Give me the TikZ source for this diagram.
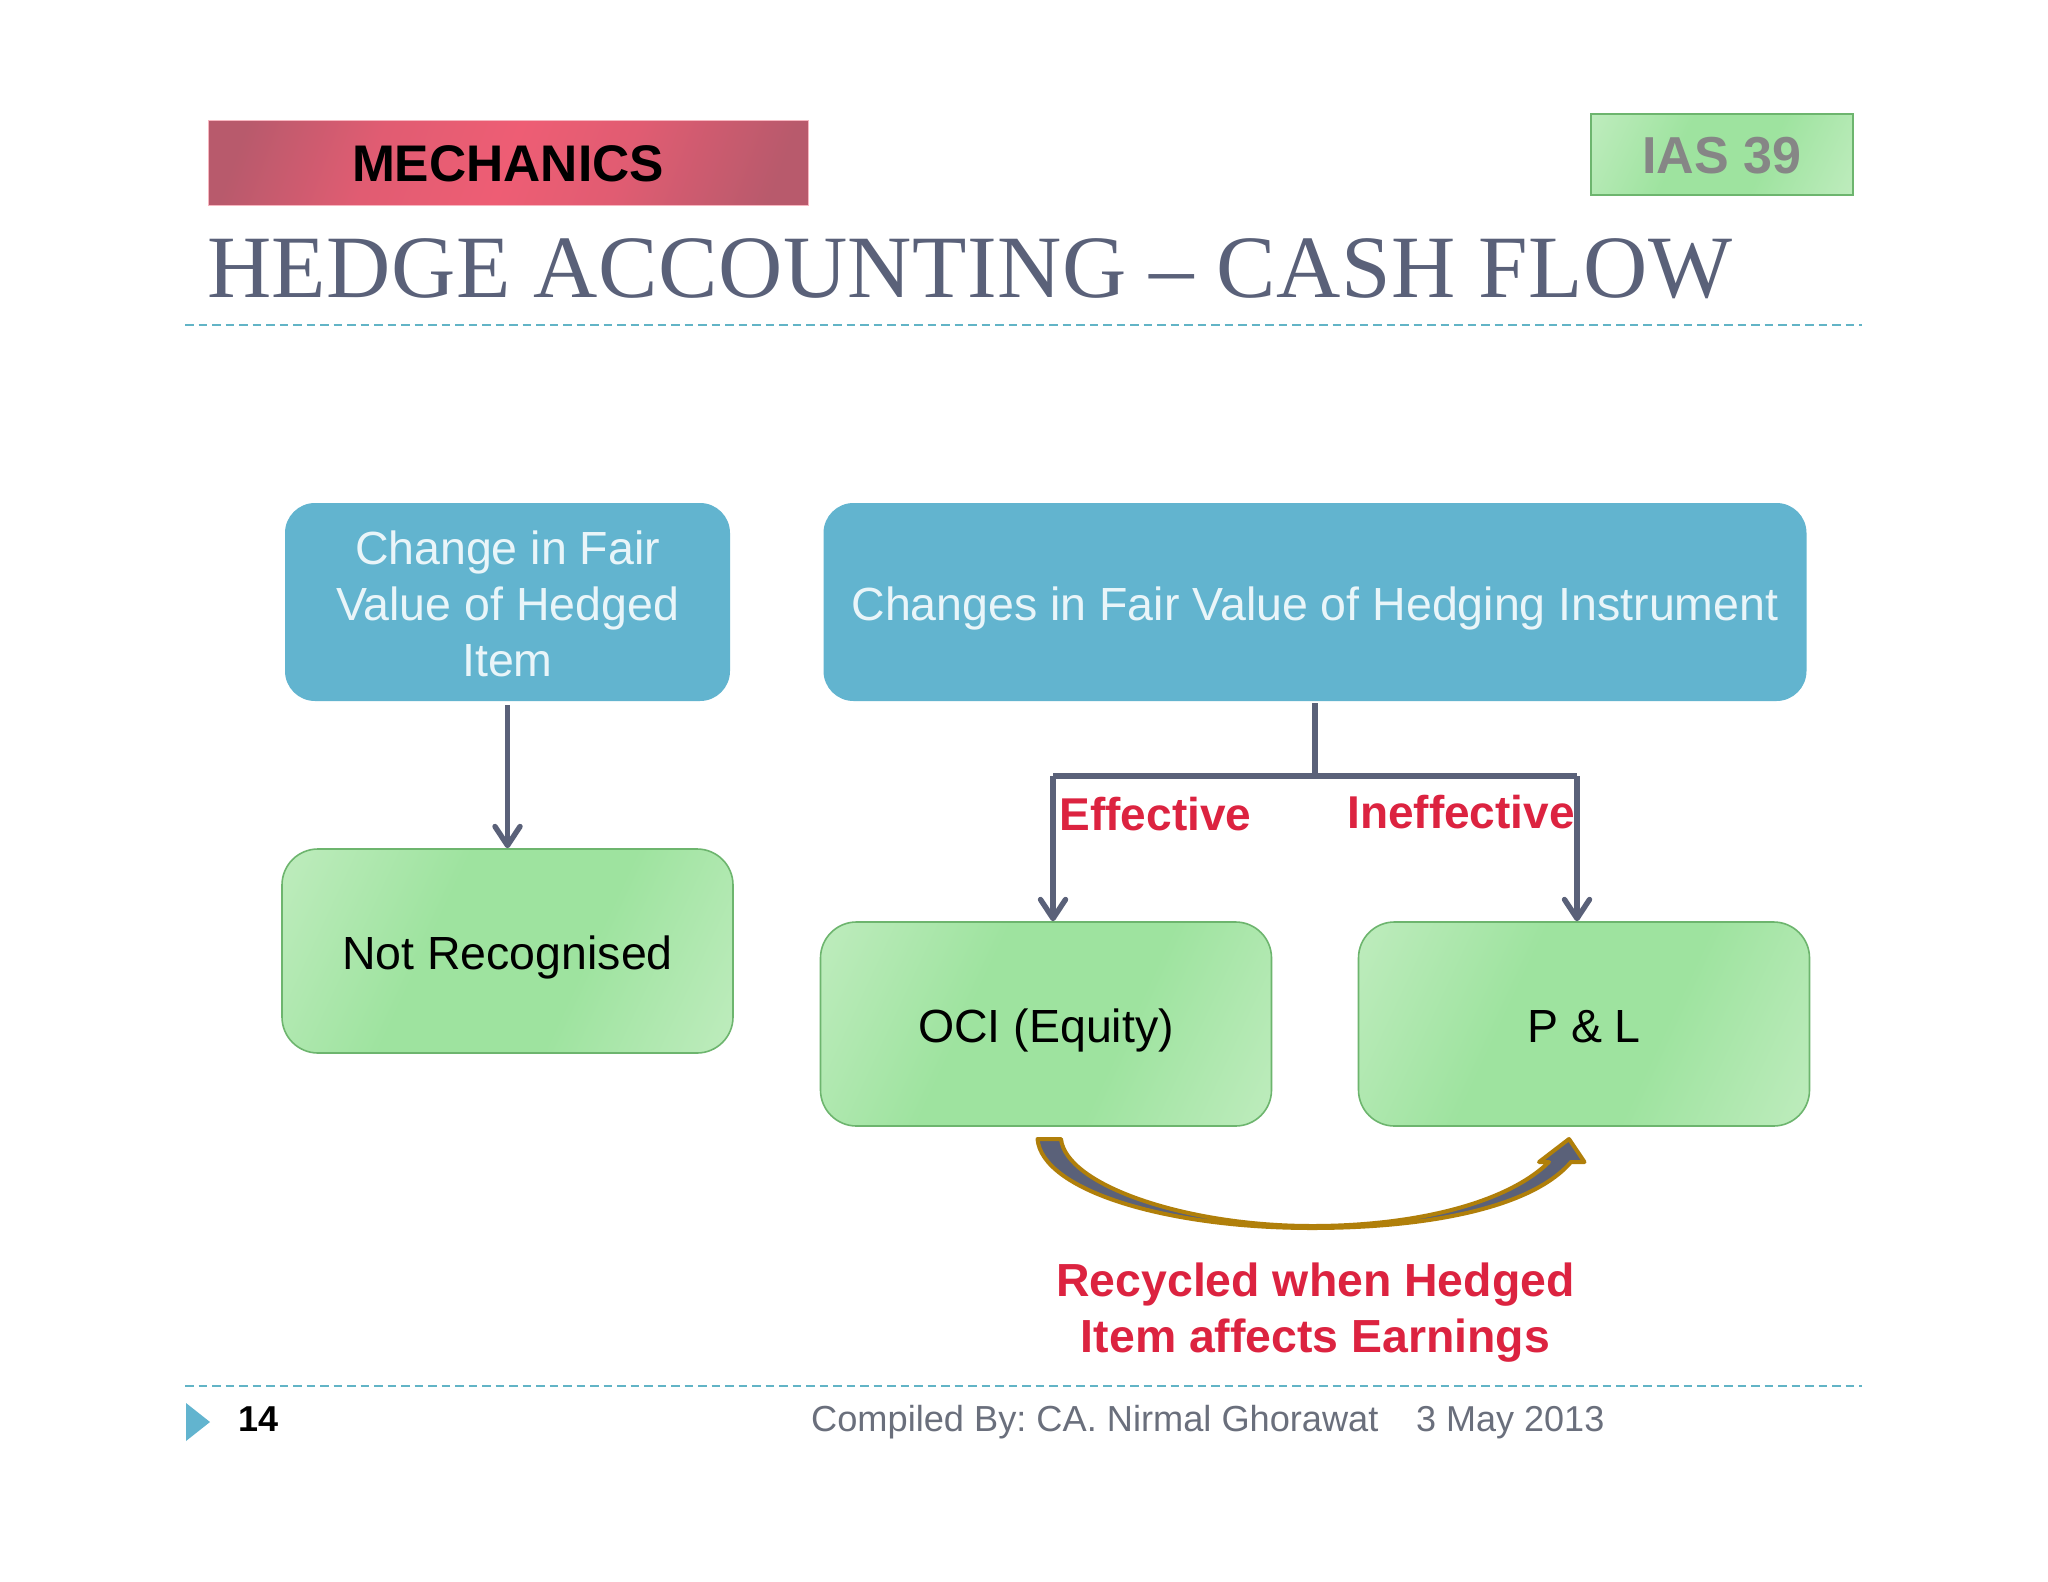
\documentclass[tikz,border=0pt]{standalone}
\usepackage{fontspec}
\setmainfont{Liberation Sans}
\newfontfamily\titlefont[LetterSpace=0.6]{Liberation Serif}
\usetikzlibrary{arrows.meta}
\definecolor{slateink}{HTML}{5A6179}
\definecolor{tealdash}{HTML}{62B4C6}
\definecolor{boxblue}{HTML}{62B4CF}
\definecolor{greenmid}{HTML}{9EE39F}
\definecolor{greenlite}{HTML}{BEECBD}
\definecolor{greenline}{HTML}{6DB56E}
\definecolor{redlabel}{HTML}{DC2340}
\definecolor{reddark}{HTML}{B85A6C}
\definecolor{redlite}{HTML}{EE5D74}
\definecolor{goldline}{HTML}{B07F0A}
\definecolor{footgray}{HTML}{6A6F7C}
\definecolor{palewhite}{HTML}{E9F5F9}
\pgfdeclarehorizontalshading{greenband}{100bp}{color(0bp)=(greenlite); color(17bp)=(greenlite); color(40bp)=(greenmid); color(60bp)=(greenmid); color(83bp)=(greenlite); color(100bp)=(greenlite)}
\pgfdeclarehorizontalshading{redband}{100bp}{color(0bp)=(reddark); color(22bp)=(reddark); color(36bp)=(redlite!75!reddark); color(50bp)=(redlite); color(62bp)=(redlite!75!reddark); color(78bp)=(reddark); color(100bp)=(reddark)}
\tikzset{
  x=1pt,y=-1pt,
  bluebox/.style={rectangle,rounded corners=30pt,fill=boxblue,inner sep=0pt,text=palewhite,align=center,font=\fontsize{46.5}{56}\selectfont},
  greenbox/.style={rectangle,rounded corners=36pt,draw=greenline,line width=1.6pt,shading=greenband,shading angle=-25,inner sep=0pt,align=center,font=\fontsize{46.5}{56}\selectfont,text height=40.5pt,text depth=4pt},
  plain/.style={inner sep=0pt,anchor=base},
  redtext/.style={plain,text=redlabel,font=\bfseries\fontsize{46}{56}\selectfont,align=center},
  dashrule/.style={tealdash,line width=2pt,dash pattern=on 8.5pt off 5pt},
  flow/.style={slateink,line width=5.4pt},
  flowarrow/.style={flow,-{Straight Barb[length=19pt,width=25pt,round,line width=5.4pt]}},
  sweep/.style={fill=slateink,draw=goldline,line width=4pt,line join=round}
}
\begin{document}
\frenchspacing
\begin{tikzpicture}
\useasboundingbox[fill=white] (0,0) rectangle (2048,1582);
% header
\node[rectangle,minimum width=600pt,minimum height=85pt,inner sep=0pt,draw=redlite!45,line width=1pt,shading=redband,shading angle=-20] (mech) at (508,162.5) {};
\node[plain,font=\bfseries\fontsize{51.5}{52}\selectfont] (mecht) at (508,181.5) {MECHANICS};
\node[rectangle,minimum width=262pt,minimum height=81pt,inner sep=0pt,draw=greenline,line width=1.8pt,shading=greenband,shading angle=-25] (ias) at (1722,154.5) {};
\node[plain,text=gray!95,font=\bfseries\fontsize{52}{52}\selectfont] (iast) at (1722,173) {IAS 39};
\node[inner sep=0pt,anchor=base west,text=slateink,font=\titlefont\fontsize{89}{89}\selectfont] (title) at (207,297) {HEDGE ACCOUNTING – CASH FLOW};
\coordinate (ruletopl) at (185,325);
\coordinate (ruletopr) at (1862,325);
\draw[dashrule] (ruletopl) -- (ruletopr);
% boxes
\node[bluebox,minimum width=445pt,minimum height=198pt] (hedged) at (507.5,602) {\rule{0pt}{37pt}Change in Fair\\Value of Hedged\\Item};
\node[bluebox,minimum width=983pt,minimum height=198pt,text height=41pt,text depth=4pt] (instr) at (1315,602) {Changes in Fair Value of Hedging Instrument};
\node[greenbox,minimum width=451pt,minimum height=204pt,text height=41.5pt] (notrec) at (507.5,951) {Not Recognised};
\node[greenbox,minimum width=451pt,minimum height=204pt] (oci) at (1046,1024) {OCI (Equity)};
\node[greenbox,minimum width=451pt,minimum height=204pt] (pl) at (1584,1024) {P \& L};
% connectors
\draw[flowarrow,shorten <=4pt] (hedged.south) -- (notrec.north);
\coordinate (split) at (1315,776);
\coordinate (splitl) at (1053,776);
\coordinate (splitr) at (1577,776);
\draw[flow,shorten <=2pt] (instr.south) -- (split);
\draw[flow] (splitl) -- (splitr);
\draw[flowarrow] (splitl) -- (splitl |- oci.north);
\draw[flowarrow] (splitr) -- (splitr |- pl.north);
\node[redtext] (eff) at (1155.5,830) {Effective};
\node[redtext] (ineff) at (1461,828) {Ineffective};
% recycling arrow
\draw[sweep] (1037.5,1139) -- (1061,1139)
  .. controls (1066,1185) and (1185,1226) .. (1312,1226)
  .. controls (1410,1226) and (1505,1205) .. (1549,1162)
  -- (1539,1162) -- (1569,1139) -- (1584.5,1162) -- (1571,1162)
  .. controls (1530,1210) and (1420,1228) .. (1312,1228)
  .. controls (1165,1228) and (1042,1190) .. cycle;
\node[redtext,font=\bfseries\fontsize{46.4}{56}\selectfont,anchor=center] (recyc) at (1315.5,1313) {Recycled when Hedged\\Item affects Earnings};
% footer
\coordinate (rulebotl) at (185,1386);
\coordinate (rulebotr) at (1862,1386);
\draw[dashrule] (rulebotl) -- (rulebotr);
\fill[boxblue] (186,1403) -- (210,1422) -- (186,1441) -- cycle;
\node[inner sep=0pt,anchor=base west,font=\bfseries\fontsize{36}{37}\selectfont] (num) at (238,1431) {14};
\node[inner sep=0pt,anchor=base west,text=footgray,font=\fontsize{36.2}{37}\selectfont] (comp) at (811,1431) {Compiled By: CA. Nirmal Ghorawat};
\node[inner sep=0pt,anchor=base west,text=footgray,font=\fontsize{36}{37}\selectfont] (date) at (1416,1431) {3 May 2013};
\end{tikzpicture}
\end{document}
